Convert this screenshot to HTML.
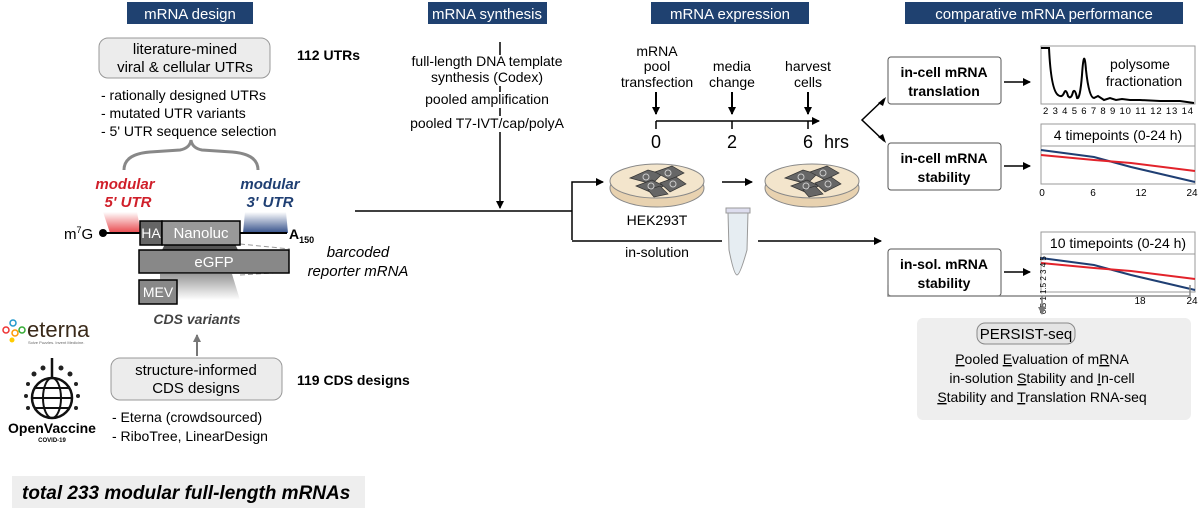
<!DOCTYPE html>
<html><head><meta charset="utf-8"><style>
html,body{margin:0;padding:0;background:#fff}
svg{display:block}
text{font-family:"Liberation Sans",Arial,sans-serif}
</style></head><body>
<svg width="1200" height="511" viewBox="0 0 1200 511" xmlns="http://www.w3.org/2000/svg">
<defs>
<marker id="ah" markerWidth="8" markerHeight="8" refX="7" refY="4" orient="auto" markerUnits="userSpaceOnUse"><path d="M0,0 L8,4 L0,8 Z" fill="#000"/></marker>
<marker id="ag" markerWidth="8" markerHeight="8" refX="7" refY="4" orient="auto" markerUnits="userSpaceOnUse"><path d="M0,0 L8,4 L0,8 Z" fill="#777"/></marker>
<linearGradient id="gr" x1="0" y1="0" x2="0" y2="1"><stop offset="0" stop-color="#fff"/><stop offset="1" stop-color="#e8474c"/></linearGradient>
<linearGradient id="gb" x1="0" y1="0" x2="0" y2="1"><stop offset="0" stop-color="#fff"/><stop offset="1" stop-color="#34508a"/></linearGradient>
<linearGradient id="gs" x1="0" y1="0" x2="0" y2="1"><stop offset="0" stop-color="#999"/><stop offset="1" stop-color="#fff"/></linearGradient>
</defs>

<!-- headers -->
<g font-size="15" fill="#fff" text-anchor="middle">
<rect x="127" y="2" width="126" height="22" fill="#1f4170"/><text x="190" y="19">mRNA design</text>
<rect x="428" y="2" width="119" height="22" fill="#1f4170"/><text x="487" y="19">mRNA synthesis</text>
<rect x="651" y="2" width="158" height="22" fill="#1f4170"/><text x="730" y="19">mRNA expression</text>
<rect x="905" y="2" width="278" height="22" fill="#1f4170"/><text x="1044" y="19">comparative mRNA performance</text>
</g>

<!-- left: UTRs -->
<rect x="99" y="38" width="171" height="40" rx="9" fill="#ececec" stroke="#999"/>
<text x="185" y="54" font-size="15" text-anchor="middle">literature-mined</text>
<text x="185" y="72" font-size="15" text-anchor="middle">viral &amp; cellular UTRs</text>
<text x="297" y="60" font-size="14" font-weight="bold">112 UTRs</text>
<g font-size="14"><text x="101" y="100">- rationally designed UTRs</text><text x="101" y="118">- mutated UTR variants</text><text x="101" y="136">- 5' UTR sequence selection</text></g>
<path d="M124,170 Q124,154 150,152 L180,150 Q190,148 191,140 Q192,148 202,150 L232,152 Q258,154 258,170" fill="none" stroke="#888" stroke-width="3"/>
<g font-size="15" font-weight="bold" font-style="italic" text-anchor="middle">
<text x="125" y="189" fill="#d01f2a">modular</text><text x="128" y="207" fill="#d01f2a">5' UTR</text>
<text x="270" y="189" fill="#1f3f73">modular</text><text x="270" y="207" fill="#1f3f73">3' UTR</text>
</g>
<path d="M103,212 L137,212 L141,233 L110,233 Z" fill="url(#gr)"/>
<path d="M245,212 L286,212 L288,233 L243,233 Z" fill="url(#gb)"/>
<path d="M165,244 L235,244 L238,250 L162,250 Z" fill="#555"/>
<path d="M160,274 L232,274 L240,300 L160,300 Z" fill="url(#gs)"/>
<path d="M240,244 L290,249 M240,275 L290,272" stroke="#999" stroke-dasharray="5,3" fill="none"/>
<line x1="103" y1="233" x2="287" y2="233" stroke="#000" stroke-width="2"/>
<circle cx="103" cy="233" r="4" fill="#000"/>
<text x="64" y="239" font-size="15">m<tspan font-size="9" dy="-6">7</tspan><tspan dy="6">G</tspan></text>
<text x="289" y="239" font-size="14" font-weight="bold">A<tspan font-size="9" dy="4">150</tspan></text>
<rect x="140" y="221" width="22" height="24" fill="#666" stroke="#000" stroke-width="1.5"/>
<text x="151" y="238" font-size="14" fill="#fff" text-anchor="middle">HA</text>
<rect x="162" y="221" width="78" height="24" fill="#999" stroke="#000" stroke-width="1.5"/>
<text x="201" y="238" font-size="15" fill="#fff" text-anchor="middle">Nanoluc</text>
<rect x="139" y="250" width="150" height="23" fill="#888" stroke="#000" stroke-width="1.5"/>
<text x="214" y="267" font-size="15" fill="#fff" text-anchor="middle">eGFP</text>
<rect x="139" y="280" width="38" height="24" fill="#888" stroke="#000" stroke-width="1.5"/>
<text x="158" y="297" font-size="14" fill="#fff" text-anchor="middle">MEV</text>
<text x="358" y="257" font-size="15" font-style="italic" text-anchor="middle">barcoded</text>
<text x="358" y="276" font-size="15" font-style="italic" text-anchor="middle">reporter mRNA</text>
<text x="197" y="324" font-size="14" font-weight="bold" font-style="italic" fill="#444" text-anchor="middle">CDS variants</text>
<line x1="197" y1="356" x2="197" y2="335" stroke="#777" stroke-width="2" marker-end="url(#ag)"/>
<rect x="111" y="358" width="171" height="42" rx="9" fill="#ececec" stroke="#999"/>
<text x="196" y="375" font-size="15" text-anchor="middle">structure-informed</text>
<text x="196" y="393" font-size="15" text-anchor="middle">CDS designs</text>
<text x="297" y="385" font-size="14" font-weight="bold">119 CDS designs</text>
<g font-size="14"><text x="112" y="422">- Eterna (crowdsourced)</text><text x="112" y="441">- RiboTree, LinearDesign</text></g>
<rect x="12" y="476" width="353" height="32" fill="#eee"/>
<text x="22" y="499" font-size="19" font-weight="bold" font-style="italic">total 233 modular full-length mRNAs</text>

<!-- logos -->
<g>
<circle cx="6" cy="330" r="3" fill="none" stroke="#e33" stroke-width="1.5"/><circle cx="13" cy="323" r="3" fill="none" stroke="#29c" stroke-width="1.5"/><circle cx="15" cy="333" r="3" fill="none" stroke="#f90" stroke-width="1.5"/><circle cx="22" cy="330" r="3" fill="none" stroke="#3a3" stroke-width="1.5"/><circle cx="12" cy="340" r="2.5" fill="#fc0"/>
<text x="27" y="337" font-size="22" fill="#3a2a1a">eterna</text>
<text x="28" y="344" font-size="4" fill="#666">Solve Puzzles. Invent Medicine.</text>
<circle cx="52" cy="398" r="20" fill="none" stroke="#111" stroke-width="2.5"/>
<ellipse cx="52" cy="398" rx="9" ry="20" fill="none" stroke="#111" stroke-width="2"/>
<line x1="32" y1="398" x2="72" y2="398" stroke="#111" stroke-width="2"/><line x1="35" y1="388" x2="69" y2="388" stroke="#111" stroke-width="2"/><line x1="35" y1="408" x2="69" y2="408" stroke="#111" stroke-width="2"/>
<line x1="52" y1="358" x2="52" y2="378" stroke="#111" stroke-width="2.5"/>
<g fill="#222"><circle cx="43" cy="368" r="2.5"/><circle cx="61" cy="368" r="2.5"/><circle cx="34" cy="374" r="2.5"/><circle cx="70" cy="374" r="2.5"/><circle cx="28" cy="384" r="2"/><circle cx="76" cy="384" r="2"/><circle cx="26" cy="396" r="2"/><circle cx="78" cy="396" r="2"/><circle cx="28" cy="408" r="2"/><circle cx="76" cy="408" r="2"/></g>
<text x="52" y="433" font-size="14" font-weight="bold" text-anchor="middle">OpenVaccine</text>
<text x="52" y="442" font-size="6" font-weight="bold" text-anchor="middle">COVID-19</text>
</g>

<!-- synthesis -->
<g font-size="14" text-anchor="middle">
<text x="487" y="66">full-length DNA template</text><text x="487" y="82">synthesis (Codex)</text>
<text x="487" y="104">pooled amplification</text><text x="487" y="128">pooled T7-IVT/cap/polyA</text>
</g>
<line x1="500" y1="42" x2="500" y2="55" stroke="#000" stroke-width="1.5"/>
<line x1="500" y1="86" x2="500" y2="92" stroke="#000" stroke-width="1.5"/>
<line x1="500" y1="108" x2="500" y2="116" stroke="#000" stroke-width="1.5"/>
<line x1="500" y1="132" x2="500" y2="208" stroke="#000" stroke-width="1.5" marker-end="url(#ah)"/>
<line x1="355" y1="211" x2="572" y2="211" stroke="#000" stroke-width="1.5"/>
<path d="M572,240 L572,182 L603,182" fill="none" stroke="#000" stroke-width="1.5" marker-end="url(#ah)"/>
<line x1="572" y1="241" x2="722" y2="241" stroke="#000" stroke-width="1.5"/>
<line x1="758" y1="241" x2="881" y2="241" stroke="#000" stroke-width="1.5" marker-end="url(#ah)"/>
<text x="657" y="257" font-size="14" text-anchor="middle">in-solution</text>
<text x="657" y="225" font-size="14" text-anchor="middle">HEK293T</text>

<!-- dishes -->
<g id="d1">
<ellipse cx="657" cy="188" rx="47" ry="19" fill="#e8d2b0" stroke="#888"/>
<ellipse cx="657" cy="181" rx="47" ry="17" fill="#f3e5cc" stroke="#888"/>
<g fill="#666" stroke="#333" stroke-width="0.7">
<path d="M630,178 L648,170 L662,174 L652,184 Z"/><path d="M655,172 L672,166 L684,173 L670,180 Z"/>
<path d="M636,186 L652,180 L664,186 L650,192 Z"/><path d="M660,183 L676,177 L686,184 L670,192 Z"/><path d="M648,190 L660,186 L668,194 L654,197 Z"/>
</g>
<g fill="none" stroke="#ccc"><circle cx="646" cy="177" r="3"/><circle cx="668" cy="173" r="3"/><circle cx="651" cy="186" r="3"/><circle cx="673" cy="184" r="3"/></g>
</g>
<use href="#d1" transform="translate(155,0)"/>
<line x1="722" y1="182" x2="752" y2="182" stroke="#000" stroke-width="1.5" marker-end="url(#ah)"/>
<path d="M728,212 L748,212 L747,250 Q740,275 737,275 Q734,275 729,250 Z" fill="#e6edf2" stroke="#999"/>
<rect x="726" y="208" width="24" height="5" fill="#dde" stroke="#999"/>

<!-- timeline -->
<g font-size="14" text-anchor="middle">
<text x="657" y="56">mRNA</text><text x="657" y="71">pool</text><text x="657" y="87">transfection</text>
<text x="732" y="71">media</text><text x="732" y="87">change</text>
<text x="808" y="71">harvest</text><text x="808" y="87">cells</text>
</g>
<g stroke="#000" stroke-width="2">
<line x1="656" y1="92" x2="656" y2="114" marker-end="url(#ah)"/>
<line x1="732" y1="92" x2="732" y2="114" marker-end="url(#ah)"/>
<line x1="808" y1="92" x2="808" y2="114" marker-end="url(#ah)"/>
</g>
<line x1="656" y1="121" x2="819" y2="121" stroke="#000" stroke-width="1.5" marker-end="url(#ah)"/>
<g stroke="#000" stroke-width="1.5"><line x1="656" y1="121" x2="656" y2="129"/><line x1="732" y1="121" x2="732" y2="129"/><line x1="808" y1="121" x2="808" y2="129"/></g>
<g font-size="18" text-anchor="middle"><text x="656" y="148">0</text><text x="732" y="148">2</text><text x="808" y="148">6</text></g>
<text x="824" y="148" font-size="18">hrs</text>
<path d="M884,99 L862,120 L884,141" fill="none" stroke="#000" stroke-width="1.5"/>
<path d="M878,103 L886,97 L883,106 Z M878,137 L886,143 L883,134 Z" fill="#000"/>

<!-- right boxes -->
<g font-size="14" font-weight="bold" text-anchor="middle">
<rect x="888" y="57" width="113" height="47" rx="3" fill="#fff" stroke="#555"/><text x="944" y="77">in-cell mRNA</text><text x="944" y="96">translation</text>
<rect x="888" y="143" width="113" height="47" rx="3" fill="#fff" stroke="#555"/><text x="944" y="163">in-cell mRNA</text><text x="944" y="182">stability</text>
<rect x="888" y="249" width="113" height="47" rx="3" fill="#fff" stroke="#555"/><text x="944" y="269">in-sol. mRNA</text><text x="944" y="288">stability</text>
</g>
<g stroke="#000" stroke-width="1.5">
<line x1="1004" y1="82" x2="1030" y2="82" marker-end="url(#ah)"/>
<line x1="1004" y1="166" x2="1030" y2="166" marker-end="url(#ah)"/>
<line x1="1004" y1="272" x2="1030" y2="272" marker-end="url(#ah)"/>
</g>

<!-- charts -->
<rect x="1041" y="46" width="154" height="58" fill="#fff" stroke="#999"/>
<path d="M1041,48 L1049,48 Q1051,90 1058,95 Q1062,98 1064,93 Q1066,88 1068,96 Q1071,100 1073,92 Q1075,88 1077,98 Q1080,100 1082,75 Q1084,45 1086,70 Q1089,98 1094,98 L1098,96 L1104,100 L1110,98 L1116,100 L1122,99 L1130,100 L1140,100 L1160,101 L1180,101 L1194,103" fill="none" stroke="#000" stroke-width="2"/>
<text x="1140" y="69" font-size="14" text-anchor="middle">polysome</text>
<text x="1144" y="86" font-size="14" text-anchor="middle">fractionation</text>
<text x="1043" y="114" font-size="9.5" textLength="150">2 3 4 5 6 7 8 9 10 11 12 13 14</text>

<rect x="1041" y="124" width="154" height="22" fill="#fff" stroke="#999"/>
<text x="1118" y="140" font-size="14" text-anchor="middle">4 timepoints (0-24 h)</text>
<rect x="1041" y="146" width="154" height="38" fill="#fff" stroke="#999"/>
<path d="M1041,150 L1094,157 L1131,167 L1195,182" fill="none" stroke="#1f3f73" stroke-width="2"/>
<path d="M1041,155 L1094,160 L1131,163 L1195,171" fill="none" stroke="#e2232b" stroke-width="2"/>
<g font-size="10" text-anchor="middle"><text x="1042" y="196">0</text><text x="1093" y="196">6</text><text x="1141" y="196">12</text><text x="1192" y="196">24</text></g>

<rect x="1041" y="232" width="154" height="22" fill="#fff" stroke="#999"/>
<text x="1118" y="248" font-size="14" text-anchor="middle">10 timepoints (0-24 h)</text>
<rect x="1041" y="254" width="154" height="38" fill="#fff" stroke="#999"/>
<path d="M1041,258 L1094,265 L1131,275 L1195,290" fill="none" stroke="#1f3f73" stroke-width="2"/>
<path d="M1041,263 L1094,268 L1131,271 L1195,279" fill="none" stroke="#e2232b" stroke-width="2"/>
<g font-size="10" text-anchor="middle"><text x="1140" y="304">18</text><text x="1192" y="304">24</text></g>
<text font-size="8" transform="translate(1046,314) rotate(-90)">0.5 1 1.5 2 3 4 5</text>

<!-- bracket -->
<path d="M888,285 L888,296 L1190,296 L1190,285" fill="none" stroke="#888" stroke-width="1.5"/>
<line x1="1042" y1="296" x2="1042" y2="314" stroke="#777" stroke-width="1.5" marker-end="url(#ag)"/>
<rect x="917" y="318" width="274" height="102" rx="6" fill="#eee"/>
<rect x="977" y="323" width="98" height="21" rx="8" fill="#e4e4e4" stroke="#888"/>
<text x="1026" y="339" font-size="15" text-anchor="middle">PERSIST-seq</text>
<g font-size="14" text-anchor="middle">
<text x="1042" y="364"><tspan text-decoration="underline">P</tspan>ooled <tspan text-decoration="underline">E</tspan>valuation of m<tspan text-decoration="underline">R</tspan>NA</text>
<text x="1042" y="383">in-solution <tspan text-decoration="underline">S</tspan>tability and <tspan text-decoration="underline">I</tspan>n-cell</text>
<text x="1042" y="402"><tspan text-decoration="underline">S</tspan>tability and <tspan text-decoration="underline">T</tspan>ranslation RNA-seq</text>
</g>
</svg>
</body></html>
